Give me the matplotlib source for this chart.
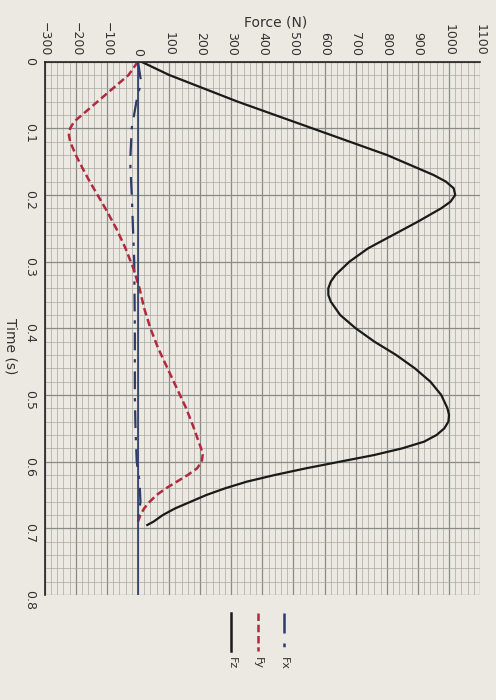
import matplotlib.pyplot as plt
from matplotlib.ticker import MultipleLocator
from matplotlib.lines import Line2D

# chart is photographed rotated: time runs down, force runs right
tijd = [0.0, 0.02, 0.04, 0.06, 0.08, 0.10, 0.12, 0.14, 0.16, 0.17, 0.18, 0.19, 0.20, 0.21, 0.22,
        0.24, 0.26, 0.28, 0.30, 0.32, 0.33, 0.34, 0.35, 0.36, 0.38, 0.40, 0.42, 0.44, 0.46, 0.48,
        0.50, 0.52, 0.53, 0.54, 0.55, 0.56, 0.57, 0.58, 0.59, 0.60, 0.61, 0.62, 0.63, 0.64, 0.65,
        0.66, 0.67, 0.68, 0.69, 0.695]
fz = [10, 100, 210, 320, 440, 560, 680, 800, 900, 950, 990, 1015, 1020, 1005, 975,
      900, 820, 740, 680, 635, 620, 612, 612, 620, 650, 700, 760, 830, 890, 940,
      975, 995, 1000, 998, 985, 960, 920, 850, 760, 650, 540, 440, 350, 280, 220,
      170, 120, 80, 50, 30]

tijdY = [0.0, 0.02, 0.04, 0.06, 0.08, 0.09, 0.10, 0.11, 0.12, 0.14, 0.16, 0.18, 0.20, 0.22,
         0.25, 0.28, 0.31, 0.34, 0.37, 0.40, 0.43, 0.46, 0.49, 0.52, 0.55, 0.57, 0.58, 0.59,
         0.60, 0.61, 0.62, 0.63, 0.64, 0.65, 0.66, 0.67, 0.68, 0.69]
fy = [0, -30, -80, -130, -180, -205, -218, -222, -218, -200, -178, -155, -130, -105,
      -70, -40, -15, 5, 20, 40, 65, 95, 125, 155, 180, 195, 203, 208,
      205, 190, 160, 125, 90, 60, 38, 20, 8, 0]

tijdX = [0.0, 0.03, 0.06, 0.10, 0.15, 0.20, 0.30, 0.40, 0.50, 0.55, 0.60, 0.63, 0.66, 0.69]
fx = [0, 10, -5, -20, -25, -20, -12, -10, -10, -8, -4, 5, 8, 0]

achtergrond = '#ebe9e1'
fig = plt.figure(figsize=(4.96, 7), dpi=100, facecolor=achtergrond)
ax = fig.add_axes([0.09, 0.15, 0.878, 0.762], facecolor=achtergrond)

ax.plot(fx, tijdX, color='#2d3b6e', lw=1.6, ls=(0, (8, 4, 1.5, 4)), label='Fx')
ax.plot(fy, tijdY, color='#b22a3f', lw=1.8, ls=(0, (3, 1.5)), label='Fy')
ax.plot(fz, tijd, color='#1a1a1a', lw=1.6, label='Fz')
ax.axvline(0, color='#2d3b6e', lw=1.2)

ax.set_xlim(-300, 1100)
ax.set_ylim(0.8, 0)
ax.xaxis.set_major_locator(MultipleLocator(100))
ax.xaxis.set_minor_locator(MultipleLocator(20))
ax.yaxis.set_major_locator(MultipleLocator(0.1))
ax.yaxis.set_minor_locator(MultipleLocator(0.02))
ax.grid(which='major', color='#8a8a88', lw=0.9)
ax.grid(which='minor', color='#a8a8a4', lw=0.5)
ax.xaxis.tick_top()
ax.tick_params(which='both', length=0, colors='#333333', labelsize=9)
ax.tick_params(axis='x', labelrotation=-90, pad=4)
ax.tick_params(axis='y', labelrotation=-90, pad=6)
ax.set_yticks([0, 0.1, 0.2, 0.3, 0.4, 0.5, 0.6, 0.7, 0.8])
ax.set_yticklabels(['0', '0.1', '0.2', '0.3', '0.4', '0.5', '0.6', '0.7', '0.8'])
for s in ['right', 'bottom']:
    ax.spines[s].set_visible(False)
for s in ['left', 'top']:
    ax.spines[s].set_color('#222222')
    ax.spines[s].set_linewidth(1.2)

fig.text(0.555, 0.968, 'Force (N)', ha='center', va='center', fontsize=10, color='#333333')
fig.text(0.022, 0.505, 'Time (s)', ha='center', va='center', fontsize=10, color='#333333', rotation=-90)

# legend, drawn vertical like the photo
lax = fig.add_axes([0.44, 0.02, 0.16, 0.11])
lax.set_xlim(0, 3)
lax.set_ylim(1, 0)
lax.axis('off')
for i, (naam, kleur, stijl) in enumerate([('Fx', '#2d3b6e', (0, (8, 4, 1.5, 4))),
                                           ('Fy', '#b22a3f', (0, (3, 1.5))),
                                           ('Fz', '#1a1a1a', '-')]):
    xi = 2.5 - i
    lax.add_line(Line2D([xi, xi], [0.05, 0.55], color=kleur, lw=1.8, ls=stijl))
    lax.text(xi, 0.62, naam, rotation=-90, ha='center', va='top', fontsize=8, color='#333333')

fig.savefig('out.png', dpi=100, facecolor=achtergrond)
